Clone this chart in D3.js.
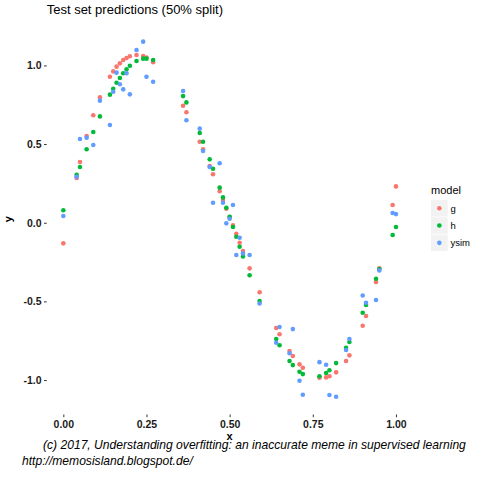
<!DOCTYPE html>
<html>
<head>
<meta charset="utf-8">
<script src="https://cdn.jsdelivr.net/npm/d3@7"></script>
<style>
  body { margin: 0; background: #fff; }
  text { font-family: "Liberation Sans", Arial, sans-serif; }
</style>
</head>
<body>
<script>
const W = 480, H = 480;

// test set inputs
const xs = [0.00, 0.04, 0.05, 0.07, 0.09, 0.11, 0.14, 0.15, 0.16, 0.17, 0.18, 0.19, 0.20, 0.22, 0.24, 0.25, 0.27,
    0.36, 0.37, 0.41, 0.42, 0.44, 0.45, 0.47, 0.48, 0.49, 0.50, 0.51, 0.52, 0.53, 0.54, 0.56, 0.59,
    0.64, 0.65, 0.68, 0.69, 0.71, 0.72, 0.77, 0.79, 0.80, 0.82, 0.85, 0.86, 0.90, 0.91, 0.94, 0.95, 0.99, 1.00];

// model g
const g = [-0.131, 0.285, 0.386, 0.551, 0.683, 0.797, 0.928, 0.962, 0.992, 1.013, 1.034, 1.047, 1.058, 1.066, 1.060, 1.050, 1.020,
    0.744, 0.702, 0.515, 0.467, 0.360, 0.308, 0.200, 0.144, 0.089, 0.036, -0.017, -0.070, -0.127, -0.180, -0.290, -0.442,
    -0.669, -0.709, -0.816, -0.847, -0.900, -0.922, -0.985, -0.983, -0.976, -0.951, -0.879, -0.843, -0.655, -0.593, -0.377, -0.290, 0.113, 0.231];

// model h
const h = [0.079, 0.305, 0.354, 0.467, 0.577, 0.676, 0.814, 0.852, 0.890, 0.920, 0.950, 0.975, 0.998, 1.028, 1.043, 1.043, 1.034,
    0.805, 0.765, 0.570, 0.515, 0.403, 0.343, 0.223, 0.161, 0.095, 0.038, -0.027, -0.089, -0.153, -0.214, -0.334, -0.498,
    -0.739, -0.779, -0.879, -0.905, -0.947, -0.962, -0.976, -0.955, -0.938, -0.892, -0.795, -0.758, -0.572, -0.523, -0.356, -0.294, -0.078, -0.027];

// simulated observations
const ysim = [0.043, 0.292, 0.532, 0.540, 0.494, 0.776, 0.621, 0.833, 0.954, 0.880, 0.848, 0.950, 0.816, 1.098, 1.151, 0.928, 0.896,
    0.837, 0.651, 0.598, 0.456, 0.354, 0.127, 0.378, 0.127, -0.004, 0.025, 0.113, -0.205, -0.095, -0.195, -0.205, -0.513,
    -0.763, -0.663, -0.830, -0.676, -1.004, -1.093, -0.886, -0.903, -1.095, -1.106, -0.809, -0.739, -0.462, -0.509, -0.491, -0.303, 0.062, 0.055];

const models = ["g", "h", "ysim"];
const colors = ["#F8766D", "#00BA38", "#619CFF"];
const xTicks = [0, 0.25, 0.5, 0.75, 1];
const yTicks = [-1, -0.5, 0, 0.5, 1];

const series = {g: g, h: h, ysim: ysim};
const points = [];
models.forEach(m => series[m].forEach((v, i) => points.push({x: xs[i], y: v, model: m})));

// panel box
const panel = {left: 46.7, right: 412.6, top: 23.9, bottom: 414.5};

const svg = d3.select("body").append("svg").attr("width", W).attr("height", H);
svg.append("rect").attr("width", W).attr("height", H).attr("fill", "#fff");

const xExt = d3.extent(xs);
const yExt = d3.extent(points, d => d.y);
const xPad = (xExt[1] - xExt[0]) * 0.05, yPad = (yExt[1] - yExt[0]) * 0.05;

const x = d3.scaleLinear().domain([xExt[0] - xPad, xExt[1] + xPad]).range([panel.left, panel.right]);
const y = d3.scaleLinear().domain([yExt[0] - yPad, yExt[1] + yPad]).range([panel.bottom, panel.top]);
const color = d3.scaleOrdinal().domain(models).range(colors);

const fmt = f => v => d3.format(f)(v).replace("\u2212", "-");

const yAxis = svg.append("g")
    .attr("transform", `translate(${panel.left},0)`)
    .call(d3.axisLeft(y).tickValues(yTicks).tickFormat(fmt(".1f")).tickSize(2.7).tickPadding(2.5));
const xAxis = svg.append("g")
    .attr("transform", `translate(0,${panel.bottom})`)
    .call(d3.axisBottom(x).tickValues(xTicks).tickFormat(fmt(".2f")).tickSize(2.7).tickPadding(3));
[xAxis, yAxis].forEach(a => {
    a.select(".domain").remove();
    a.selectAll(".tick line").attr("stroke", "#333").attr("stroke-width", 1);
    a.selectAll(".tick text")
        .attr("fill", "#1a1a1a")
        .attr("font-size", "10.5px")
        .attr("font-weight", "bold")
        .attr("font-family", "Liberation Sans, Arial, sans-serif");
});

svg.append("g")
    .selectAll("circle")
    .data(points)
    .enter()
    .append("circle")
    .attr("cx", d => x(d.x))
    .attr("cy", d => y(d.y))
    .attr("r", 2.3)
    .attr("fill", d => color(d.model));

// titles
svg.append("text")
    .attr("x", panel.left)
    .attr("y", 14)
    .attr("font-size", "13px")
    .attr("fill", "#000")
    .text("Test set predictions (50% split)");

// x label sits partly under the caption, as in the original
svg.append("text")
    .attr("x", (panel.left + panel.right) / 2)
    .attr("y", 440)
    .attr("text-anchor", "middle")
    .attr("font-size", "11px")
    .attr("font-weight", "bold")
    .text("x");

svg.append("text")
    .attr("transform", `translate(12,${(panel.top + panel.bottom) / 2}) rotate(-90)`)
    .attr("text-anchor", "middle")
    .attr("font-size", "11px")
    .attr("font-weight", "bold")
    .text("y");

svg.append("text")
    .attr("x", 43)
    .attr("y", 449)
    .attr("font-size", "12.1px")
    .attr("font-style", "italic")
    .text("(c) 2017, Understanding overfitting: an inaccurate meme in supervised learning");

svg.append("text")
    .attr("x", 22)
    .attr("y", 465)
    .attr("font-size", "12.1px")
    .attr("font-style", "italic")
    .text("http://memosisland.blogspot.de/");

// legend
const legend = svg.append("g").attr("transform", "translate(431,183)");
legend.append("text")
    .attr("x", 0)
    .attr("y", 11)
    .attr("font-size", "11px")
    .text("model");
const keys = legend.selectAll("g.key")
    .data(models)
    .enter()
    .append("g")
    .attr("class", "key")
    .attr("transform", (d, i) => `translate(0,${17 + i * 17.3})`);
keys.append("rect")
    .attr("width", 16.7)
    .attr("height", 16.5)
    .attr("fill", "#f2f2f2");
keys.append("circle")
    .attr("cx", 8.35)
    .attr("cy", 8.25)
    .attr("r", 2.3)
    .attr("fill", d => color(d));
keys.append("text")
    .attr("x", 19.5)
    .attr("y", 11.8)
    .attr("font-size", "9.5px")
    .text(d => d);
</script>
</body>
</html>
